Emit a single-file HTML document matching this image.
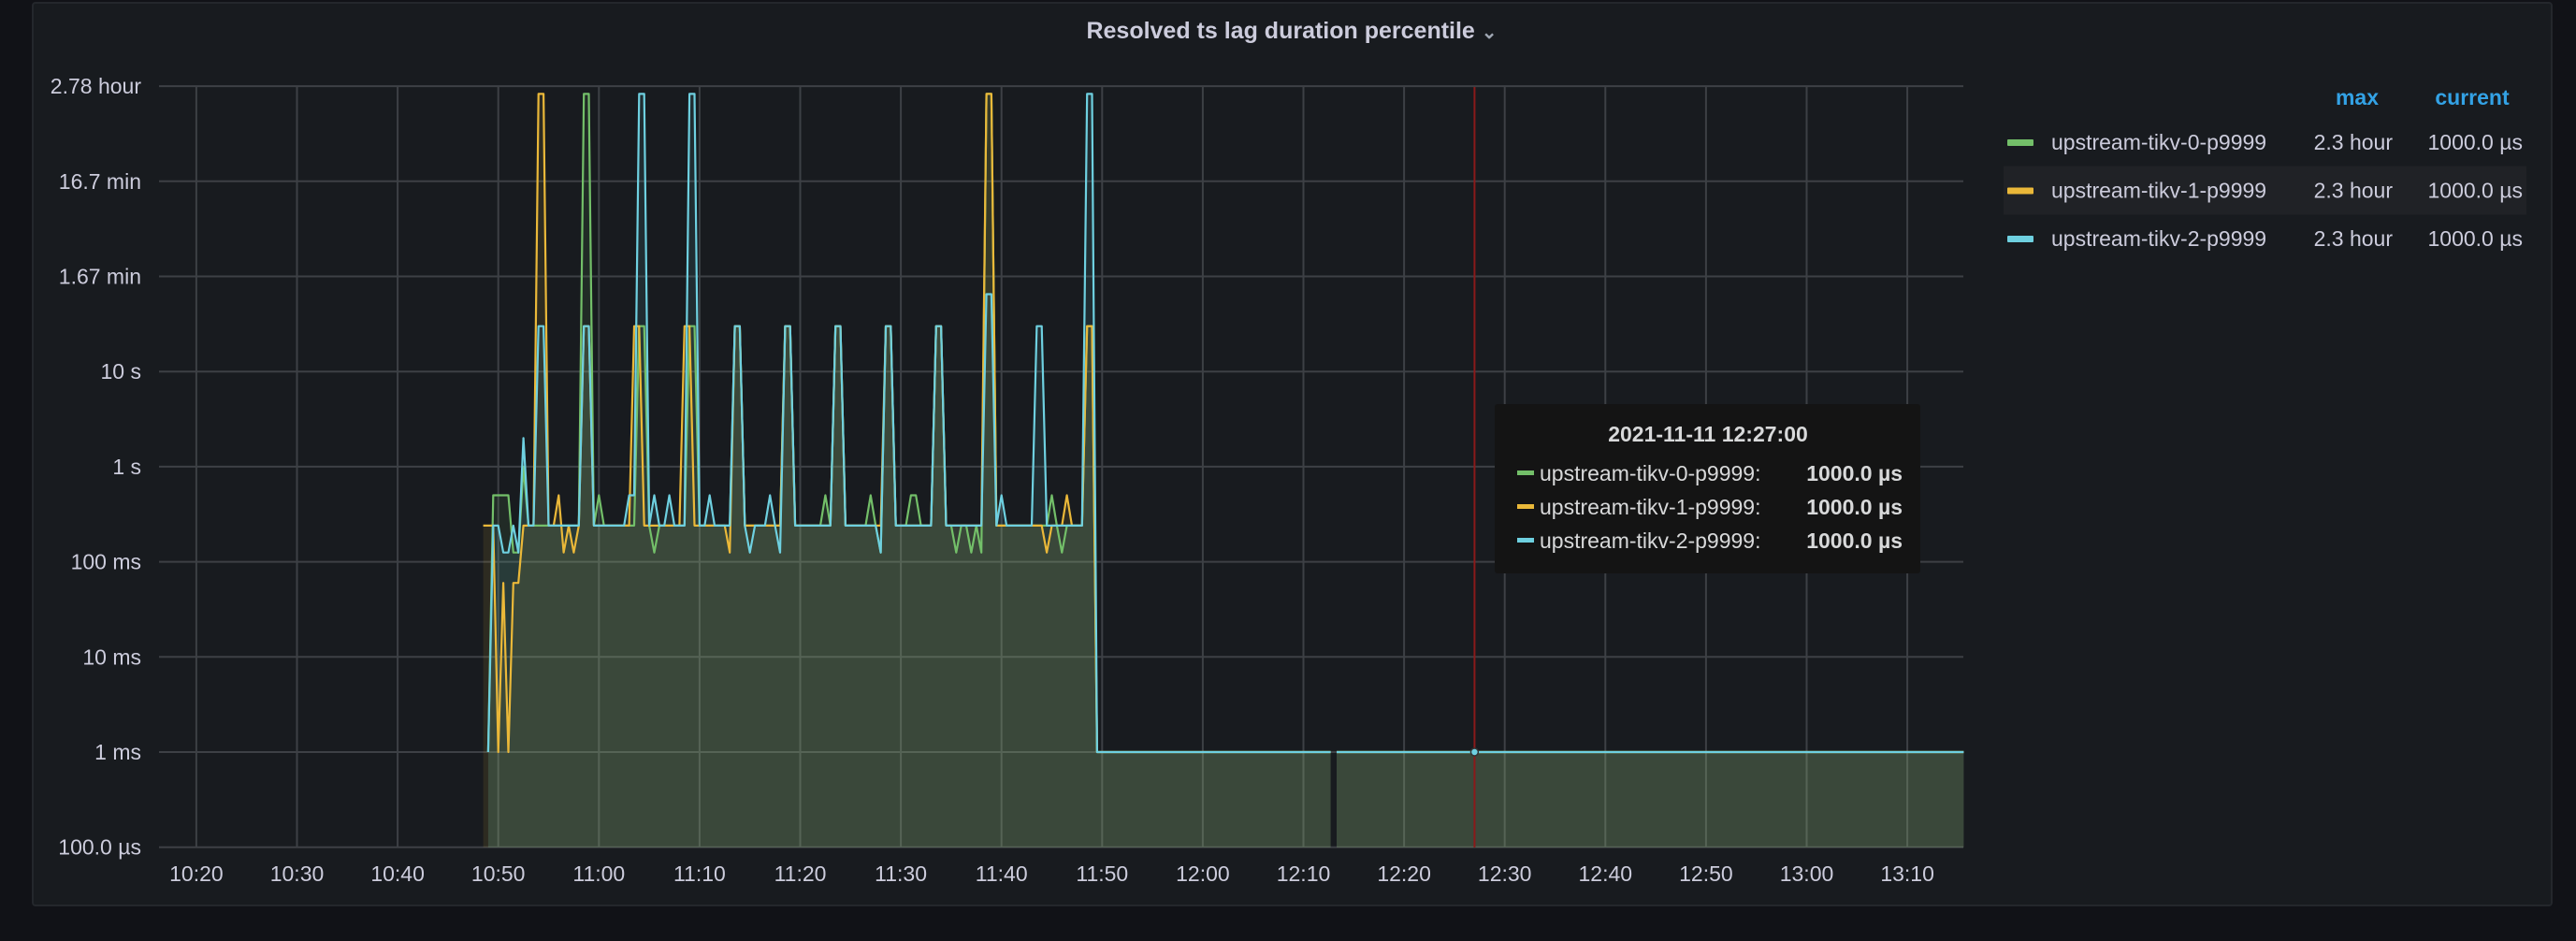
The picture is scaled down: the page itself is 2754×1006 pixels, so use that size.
<!DOCTYPE html>
<html><head><meta charset="utf-8"><style>
html,body{margin:0;padding:0;background:#111217;width:2754px;height:1006px;overflow:hidden}
svg text{font-family:"Liberation Sans",sans-serif}
</style></head><body>
<svg id="chart" width="2754" height="1006" xmlns="http://www.w3.org/2000/svg">
<rect x="35" y="3" width="2693" height="965" rx="3" fill="#181b1f" stroke="#24272c" stroke-width="2"/>
<text x="1381" y="41" text-anchor="middle" fill="#ccccdc" font-size="25" font-weight="bold">Resolved ts lag duration percentile <tspan font-size="20" fill="#9fa7b3">⌄</tspan></text>
<g id="grid"></g><g id="fills"></g><g id="lines"></g><g id="overlay"></g>
</svg>
<script>
const S = 30000, T = 8280000, B = 240;
const gridStartMinute = -1.5;
const stepMinutes = 0.5;
const seriesNames = ["upstream-tikv-0-p9999","upstream-tikv-1-p9999","upstream-tikv-2-p9999"];
const seriesColors = ["#73bf69","#eab839","#6ed0e0"];
const tikv0 = [null,1,500,500,500,500,125,125,1000,240,
240,240,240,240,240,240,240,240,240,240,
T,T,240,500,240,240,240,240,240,240,
240,S,S,240,125,240,240,240,240,240,
240,S,S,240,240,240,240,240,240,240,
S,S,240,240,240,240,240,240,240,240,
S,S,240,240,240,240,240,240,500,240,
S,S,240,240,240,240,240,500,240,125,
S,S,240,240,240,500,500,240,240,240,
S,S,240,240,125,240,240,125,240,125,
T,T,240,240,240,240,240,240,240,240,
240,240,240,500,240,125,240,240,240,240,
S,S,1];
const tikv1 = [240,240,240,1,60,1,60,60,240,240,
240,T,T,240,240,500,125,240,125,240,
S,S,240,240,240,240,240,240,240,240,
S,S,240,240,240,240,240,240,240,240,
S,S,240,240,240,240,240,240,240,125,
S,S,240,240,240,240,240,240,240,240,
S,S,240,240,240,240,240,240,240,240,
S,S,240,240,240,240,240,240,240,240,
S,S,240,240,240,240,240,240,240,240,
S,S,240,240,240,240,240,240,240,240,
T,T,240,240,240,240,240,240,240,240,
240,240,125,240,240,240,500,240,240,240,
S,S,1];
const tikv2 = [null,1,240,240,125,125,240,125,2000,240,
240,S,S,240,240,240,240,240,240,240,
S,S,240,240,240,240,240,240,240,500,
500,T,T,240,500,240,240,500,240,240,
240,T,T,240,240,500,240,240,240,240,
S,S,240,125,240,240,240,500,240,125,
S,S,240,240,240,240,240,240,240,240,
S,S,240,240,240,240,240,240,240,125,
S,S,240,240,240,240,240,240,240,240,
S,S,240,240,240,240,240,240,240,240,
65000,65000,240,500,240,240,240,240,240,240,
S,S,240,240,240,240,240,240,240,240,
T,T,1];
const tailMinutes = [60, 82.7, 83.0, 83.3, 145.6];
const tailTikv0 = [1,1,null,1,1];
const tailTikv1 = [1,1,null,1,1];
const tailTikv2 = [1,1,null,1,1];
const yTickValues = [0.1,1,10,100,1000,10000,100000,1000000,10000000];
const yTickLabels = ["100.0 µs","1 ms","10 ms","100 ms","1 s","10 s","1.67 min","16.7 min","2.78 hour"];
const xTickMinutes = [-30,-20,-10,0,10,20,30,40,50,60,70,80,90,100,110,120,130,140];
const xTickLabels = ["10:20","10:30","10:40","10:50","11:00","11:10","11:20","11:30","11:40","11:50","12:00","12:10","12:20","12:30","12:40","12:50","13:00","13:10"];
const legendMax = ["2.3 hour","2.3 hour","2.3 hour"];
const legendCurrent = ["1000.0 µs","1000.0 µs","1000.0 µs"];
const hoverMinute = 97;
const hoverValues = ["1000.0 µs","1000.0 µs","1000.0 µs"];

const PL=170, PR=2099, PT=93, PB=906;
const xs = m => 532.7 + m*10.76;
const ys = v => 804 - 101.7*Math.log10(v);
const NS="http://www.w3.org/2000/svg";
function mk(tag, attrs, parent){const e=document.createElementNS(NS,tag);for(const k in attrs)e.setAttribute(k,attrs[k]);parent.appendChild(e);return e;}
const grid=document.getElementById('grid'), fills=document.getElementById('fills'), lines=document.getElementById('lines'), ov=document.getElementById('overlay');
yTickValues.forEach((v,i)=>{
  const l=mk('line',{x1:PL,x2:PR,y1:ys(v),y2:ys(v),stroke:'#3d4045','stroke-width':2},grid);
  
  
  const t=mk('text',{x:151,y:ys(v)+8,'text-anchor':'end',fill:'#ccccdc','font-size':23},grid);
  t.textContent=yTickLabels[i];
  
  
});
xTickMinutes.forEach((m,i)=>{
  const l=mk('line',{x1:xs(m),x2:xs(m),y1:PT,y2:PB,stroke:'#3d4045','stroke-width':2},grid);
  
  
  const t=mk('text',{x:xs(m),y:942,'text-anchor':'middle',fill:'#ccccdc','font-size':23},grid);
  t.textContent=xTickLabels[i];
  
  
});
const mains=[tikv0,tikv1,tikv2], tails=[tailTikv0,tailTikv1,tailTikv2];
mains.forEach((arr,s)=>{
  const pts=[];
  arr.forEach((v,i)=>pts.push([gridStartMinute+i*stepMinutes,v]));
  tails[s].forEach((v,i)=>pts.push([tailMinutes[i],v]));
  const segs=[];let cur=[];
  pts.forEach(p=>{if(p[1]==null){if(cur.length)segs.push(cur);cur=[];}else cur.push(p);});
  if(cur.length)segs.push(cur);
  segs.forEach(seg=>{
    const d=seg.map((p,i)=>(i?'L':'M')+xs(p[0]).toFixed(1)+' '+ys(p[1]).toFixed(1)).join(' ');
    const f=mk('path',{d:d+' L'+xs(seg[seg.length-1][0]).toFixed(1)+' '+PB+' L'+xs(seg[0][0]).toFixed(1)+' '+PB+' Z',fill:seriesColors[s],'fill-opacity':0.1},fills);
    
    
    const l=mk('path',{d:d,fill:'none',stroke:seriesColors[s],'stroke-width':2.2,'stroke-linejoin':'round'},lines);
    
    
  });
});
const hl=mk('line',{x1:xs(hoverMinute),x2:xs(hoverMinute),y1:PT,y2:PB,stroke:'#8a1a1a','stroke-width':2},ov);


const hp=mk('circle',{cx:xs(hoverMinute),cy:ys(1),r:4,fill:'#6ed0e0',stroke:'#333','stroke-width':1.5},ov);


const tg=mk('g',{},ov);


mk('rect',{x:1598,y:432,width:455,height:181,rx:3,fill:'#141414'},tg);
const tt=mk('text',{x:1826,y:472,'text-anchor':'middle',fill:'#d8d9da','font-size':23,'font-weight':'bold'},tg);
tt.textContent='2021-11-11 12:27:00';


seriesNames.forEach((n,i)=>{
  const y=506+i*36;
  const sw=mk('rect',{x:1622,y:y-3,width:18,height:5,fill:seriesColors[i]},tg);
  
  
  const a=mk('text',{x:1646,y:y+8,fill:'#d8d9da','font-size':23},tg);
  a.textContent=n+':';
  
  
  const b=mk('text',{x:2034,y:y+8,'text-anchor':'end',fill:'#d8d9da','font-size':23,'font-weight':'bold'},tg);
  b.textContent=hoverValues[i];
  
  
});
const lg=mk('g',{},ov);


const h1=mk('text',{x:2520,y:112,'text-anchor':'middle',fill:'#33a2e5','font-size':23,'font-weight':'bold'},lg);
h1.textContent='max';


const h2=mk('text',{x:2643,y:112,'text-anchor':'middle',fill:'#33a2e5','font-size':23,'font-weight':'bold'},lg);
h2.textContent='current';


seriesNames.forEach((n,i)=>{
  const y=152+i*51.5;
  if(i===1){const hb=mk('rect',{x:2142,y:y-26,width:559,height:52,fill:'#202226'},lg);
    
    }
  const sw=mk('rect',{x:2146,y:y-3,width:28,height:7,rx:1,fill:seriesColors[i]},lg);
  
  
  const a=mk('text',{x:2193,y:y+8,fill:'#ccccdc','font-size':23},lg);
  a.textContent=n;
  
  
  const b=mk('text',{x:2558,y:y+8,'text-anchor':'end',fill:'#ccccdc','font-size':23},lg);
  b.textContent=legendMax[i];
  
  
  const c=mk('text',{x:2697,y:y+8,'text-anchor':'end',fill:'#ccccdc','font-size':23},lg);
  c.textContent=legendCurrent[i];
  
  
});
</script>
</body></html>
